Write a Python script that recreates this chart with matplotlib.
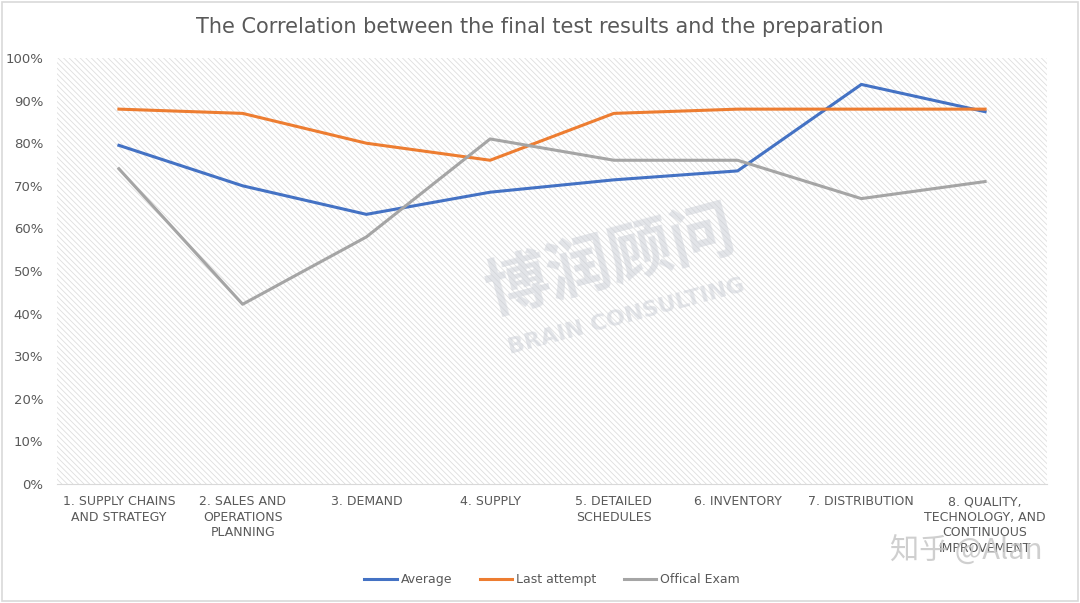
import matplotlib.pyplot as plt
from matplotlib.patches import Rectangle
from matplotlib.ticker import PercentFormatter

# 数据
categories = ['1. SUPPLY CHAINS\nAND STRATEGY', '2. SALES AND\nOPERATIONS\nPLANNING', '3. DEMAND',
              '4. SUPPLY', '5. DETAILED\nSCHEDULES', '6. INVENTORY', '7. DISTRIBUTION',
              '8. QUALITY,\nTECHNOLOGY, AND\nCONTINUOUS\nIMPROVEMENT']
average = [79.5, 70.0, 63.3, 68.5, 71.4, 73.5, 93.8, 87.4]
last_attempt = [88.0, 87.0, 80.0, 76.0, 87.0, 88.0, 88.0, 88.0]
official_exam = [74.0, 42.2, 58.0, 81.0, 76.0, 76.0, 67.0, 71.0]

plt.rcParams['font.family'] = ['DejaVu Sans', 'Noto Sans CJK SC']
plt.rcParams['hatch.linewidth'] = 0.6
plt.rcParams['hatch.color'] = '#dedede'

fig = plt.figure(figsize=(10.8, 6.03), dpi=100)
ax = fig.add_axes([0.0528, 0.1973, 0.9166, 0.7065])

# 斜线背景
ax.add_patch(Rectangle((0, 0), 1, 1, transform=ax.transAxes, facecolor='white',
                       edgecolor='#dedede', hatch='\\\\\\\\\\\\', linewidth=0, zorder=0))

x = range(len(categories))
ax.plot(x, average, color='#4472C4', linewidth=2.2, label='Average', zorder=3)
ax.plot(x, last_attempt, color='#ED7D31', linewidth=2.2, label='Last attempt', zorder=3)
ax.plot(x, official_exam, color='#A5A5A5', linewidth=2.2, label='Offical Exam', zorder=3)

ax.set_xlim(-0.5, len(categories) - 0.5)
ax.set_ylim(0, 100)
ax.set_yticks(range(0, 101, 10))
ax.yaxis.set_major_formatter(PercentFormatter(decimals=0))
ax.set_xticks(list(x))
ax.set_xticklabels(categories, fontsize=9, color='#595959', linespacing=1.25)
ax.tick_params(axis='y', labelsize=9.5, labelcolor='#595959', length=0, pad=10)
ax.tick_params(axis='x', length=0, pad=8)
for s in ['top', 'right', 'left']:
    ax.spines[s].set_visible(False)
ax.spines['bottom'].set_color('#d9d9d9')

fig.suptitle('The Correlation between the final test results and the preparation',
             x=0.5, y=0.972, fontsize=15, color='#595959')

ax.legend(loc='center', bbox_to_anchor=(0.5, -0.224), ncol=3, frameon=False,
          fontsize=9, labelcolor='#595959', handlelength=2.6, handletextpad=0.3,
          columnspacing=2.2)

# 水印
fig.text(0.565, 0.565, '博润顾问', fontsize=46, color='#c8ccd4', alpha=0.5, rotation=15,
         ha='center', va='center', fontweight='bold', family=['Noto Sans CJK SC'], zorder=1)
fig.text(0.58, 0.475, 'BRAIN CONSULTING', fontsize=16, color='#c8ccd4', alpha=0.5,
         rotation=15, ha='center', va='center', fontweight='bold', zorder=1)
fig.text(0.895, 0.085, '知乎 @Alan', fontsize=21, color='#c4c4c4', alpha=0.8,
         ha='center', va='center', family=['Noto Sans CJK SC', 'DejaVu Sans'])

# 外框
fig.add_artist(Rectangle((0.002, 0.004), 0.996, 0.992, transform=fig.transFigure,
                         fill=False, edgecolor='#d9d9d9', linewidth=1.2))

fig.savefig('out.png', dpi=100)
